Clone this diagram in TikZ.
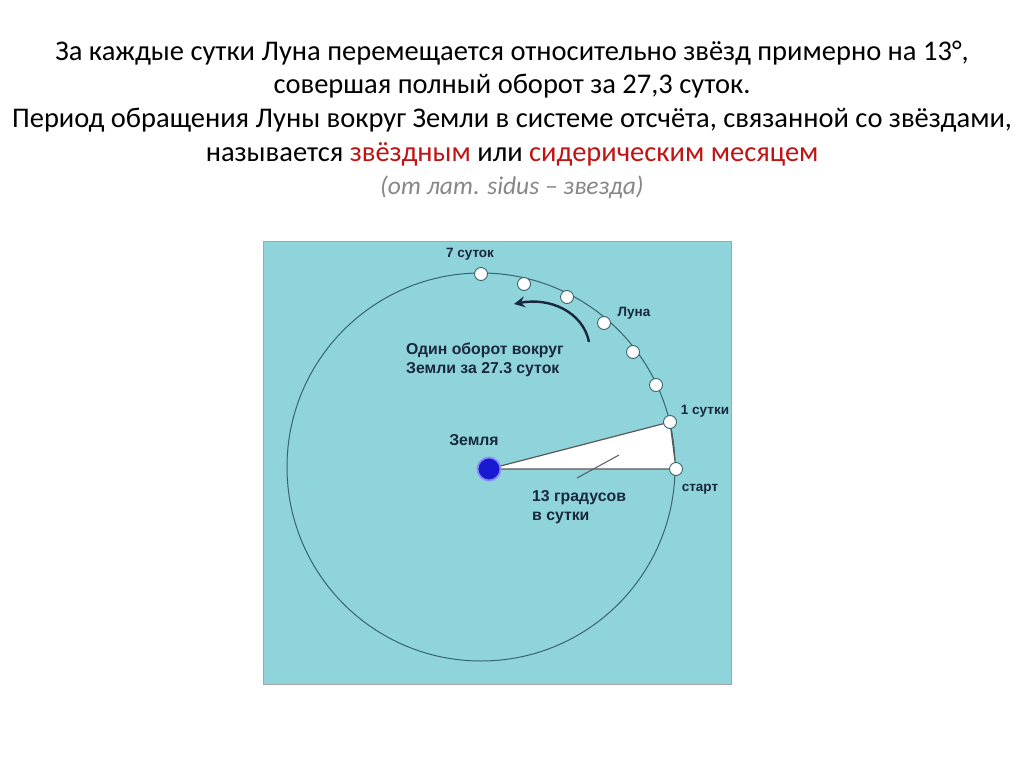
\documentclass[tikz,border=0pt]{standalone}
\usepackage{fontspec}
\setmainfont{Carlito}
\newfontfamily\arialf{Liberation Sans}
\usetikzlibrary{arrows.meta}
\definecolor{sky}{RGB}{143,211,219}
\definecolor{orbit}{RGB}{55,100,110}
\definecolor{darkred}{RGB}{192,20,20}
\definecolor{greytxt}{RGB}{135,135,135}
\definecolor{navy}{RGB}{25,40,60}
\definecolor{earthblue}{RGB}{25,25,210}
\tikzset{
  title/.style={font=\fontsize{28.5}{32}\selectfont, inner sep=0pt, anchor=center},
  lbl/.style={font=\arialf\bfseries\fontsize{13.5}{15}\selectfont, text=navy, inner sep=0pt},
  biglbl/.style={font=\arialf\bfseries\fontsize{15.8}{18}\selectfont, text=navy, inner sep=0pt, align=left},
  moon/.style={circle, draw=orbit, fill=white, line width=0.9pt, minimum size=13pt, inner sep=0pt}
}
\begin{document}
\begin{tikzpicture}[x=1pt,y=-1pt]
\useasboundingbox (0,0) rectangle (1024,767);
\fill[white] (0,0) rectangle (1024,767);
% title
\node[title] (t1) at (512,53) {За каждые сутки Луна перемещается относительно звёзд примерно на 13°,};
\node[title] (t2) at (512,86) {совершая полный оборот за 27,3 суток.};
\node[title] (t3) at (512,120) {Период обращения Луны вокруг Земли в системе отсчёта, связанной со звёздами,};
\node[title] (t4) at (512,154) {называется \textcolor{darkred}{звёздным} или \textcolor{darkred}{сидерическим месяцем}};
\node[title, text=greytxt, font=\itshape\fontsize{25.5}{28}\selectfont] (t5) at (512,187) {(от лат. sidus – звезда)};
% panel
\draw[fill=sky, draw=gray!70, line width=1pt] (263,241) rectangle (731,684);
\draw[orbit, line width=1pt] (481,467) circle (194);
% wedge
\coordinate (E) at (489,469);
\coordinate (S) at (676,469);
\coordinate (D1) at (670,422);
\draw[fill=white, draw=gray!70!black, line width=1.2pt] (E) -- (D1) -- (S) -- cycle;
% earth
\node[circle, fill=earthblue, draw=blue!45!white, line width=1.8pt, minimum size=23pt, inner sep=0pt] (earth) at (E) {};
% moons
\node[moon] (m0) at (S) {};
\node[moon] (m1) at (D1) {};
\node[moon] (m2) at (656,385) {};
\node[moon] (m3) at (633,352) {};
\node[moon] (m4) at (604,323) {};
\node[moon] (m5) at (567,297) {};
\node[moon] (m6) at (524,284) {};
\node[moon] (m7) at (481,274) {};
% labels
\node[lbl] (l7) at (470,254) {7 суток};
\node[lbl] (lm) at (634,313) {Луна};
\node[lbl] (l1) at (705,411) {1 сутки};
\node[lbl] (ls) at (700,489) {старт};
\node[biglbl] (le) at (474,440) {Земля};
\node[biglbl, anchor=west] (lg) at (532,507) {13 градусов\\[1pt] в сутки};
\node[biglbl, anchor=west] (lo) at (406,360) {Один оборот вокруг\\[1pt]Земли за 27.3 суток};
% leader
\coordinate (p1) at (577,478);
\coordinate (p2) at (619,455);
\draw[gray!70!black, line width=1pt] (p1) -- (p2);
% arrow
\coordinate (a1) at (589,342);
\coordinate (a2) at (514,304);
\draw[navy, line width=2.4pt, -{Stealth[length=11pt,width=11pt,inset=4pt]}] (a1) .. controls (583,312) and (550,297) .. (a2);
\end{tikzpicture}
\end{document}
